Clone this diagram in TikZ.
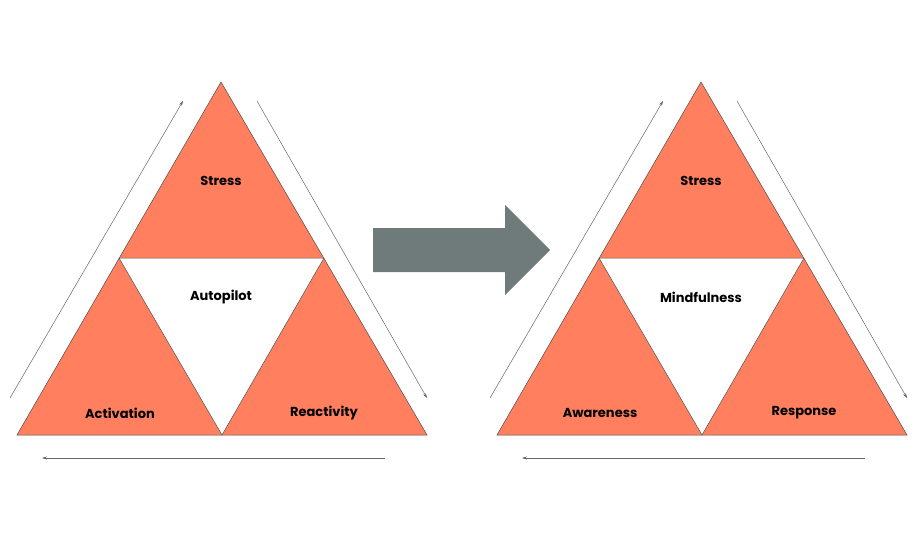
\documentclass[tikz,border=0pt]{standalone}
\usepackage{fontspec}
\setmainfont{Poppins}
\usetikzlibrary{arrows.meta}
\definecolor{tri}{HTML}{FF7F5E}
\definecolor{big}{HTML}{6E7B7A}
\begin{document}
\begin{tikzpicture}[x=1pt,y=-1pt,
  tri/.style={fill=tri,draw=black!70,line width=0.5pt},
  wht/.style={fill=white,draw=black!70,line width=0.5pt},
  lab/.style={font=\fontsize{13}{15}\selectfont\bfseries,text=black},
  side/.style={draw=black!60,line width=0.5pt,-{Stealth[length=5pt,width=3pt]}}]
\useasboundingbox (0,0) rectangle (923,540);
\foreach \ox/\a/\b/\c/\d in {0/Stress/Autopilot/Activation/Reactivity,480/Stress/Mindfulness/Awareness/Response}{
\begin{scope}[xshift=\ox]
\fill[tri,draw=none] (221,82)--(17,435)--(427,435)--cycle;
\draw[tri,fill=none] (221,82)--(17,435)--(427,435)--cycle;
\draw[wht] (119,258)--(324,258)--(222,435)--cycle;
\node[lab] at (221,181) {\a};
\node[lab] at (221,297) {\b};
\node[lab] at (120,413) {\c};
\node[lab] at (324,413) {\d};
\coordinate (l1) at (10,398); \coordinate (l2) at (183,101);
\coordinate (r1) at (257,101); \coordinate (r2) at (427,398);
\coordinate (b1) at (385,458); \coordinate (b2) at (42,458);
\draw[side] (l1)--(l2);
\draw[side] (r1)--(r2);
\draw[side] (b1)--(b2);
\end{scope}}
\fill[big] (373,228)--(505,228)--(505,205)--(550,250)--(505,295)--(505,272)--(373,272)--cycle;
\end{tikzpicture}
\end{document}
